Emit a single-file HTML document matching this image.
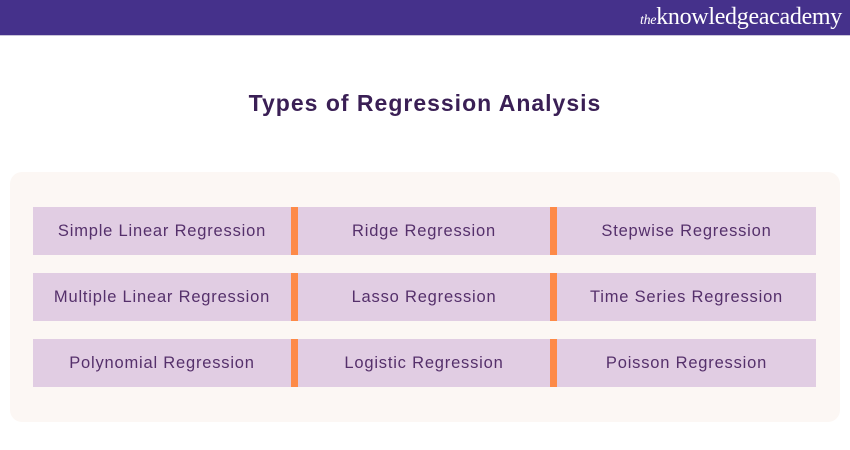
<!DOCTYPE html>
<html><head><style>
*{margin:0;padding:0;box-sizing:border-box}
body{width:850px;height:450px;background:#fff;position:relative;font-family:"Liberation Sans",sans-serif;overflow:hidden}
.hdr{position:absolute;left:0;top:0;width:850px;height:36px;background:#45318b;border-bottom:1px solid #c9c4d8}
.logo{position:absolute;right:8px;top:4px;color:#fff;font-family:"Liberation Serif",serif;font-size:24px;letter-spacing:-0.3px}
.logo i{font-size:14px}
h1{position:absolute;top:90px;left:0;width:850px;text-align:center;font-size:23px;font-weight:bold;color:#3a1f55;letter-spacing:1px}
.panel{position:absolute;left:10px;top:172px;width:830px;height:250px;background:#fcf7f4;border-radius:12px}
.c{position:absolute;height:48px;background:#e1cde3;color:#55306b;font-size:16.5px;letter-spacing:0.8px;display:flex;align-items:center;justify-content:center}
.b{position:absolute;width:7px;height:48px;background:#fd8a48}
</style></head><body>
<div class="hdr"><div class="logo"><i>the</i>knowledgeacademy</div></div>
<h1>Types of Regression Analysis</h1>
<div class="panel"></div>
<div class="c" style="left:33px;top:207px;width:258px">Simple Linear Regression</div>
<div class="b" style="left:291px;top:207px"></div>
<div class="c" style="left:298px;top:207px;width:252px">Ridge Regression</div>
<div class="b" style="left:550px;top:207px"></div>
<div class="c" style="left:557px;top:207px;width:259px">Stepwise Regression</div>
<div class="c" style="left:33px;top:273px;width:258px">Multiple Linear Regression</div>
<div class="b" style="left:291px;top:273px"></div>
<div class="c" style="left:298px;top:273px;width:252px">Lasso Regression</div>
<div class="b" style="left:550px;top:273px"></div>
<div class="c" style="left:557px;top:273px;width:259px">Time Series Regression</div>
<div class="c" style="left:33px;top:339px;width:258px">Polynomial Regression</div>
<div class="b" style="left:291px;top:339px"></div>
<div class="c" style="left:298px;top:339px;width:252px">Logistic Regression</div>
<div class="b" style="left:550px;top:339px"></div>
<div class="c" style="left:557px;top:339px;width:259px">Poisson Regression</div>
</body></html>
